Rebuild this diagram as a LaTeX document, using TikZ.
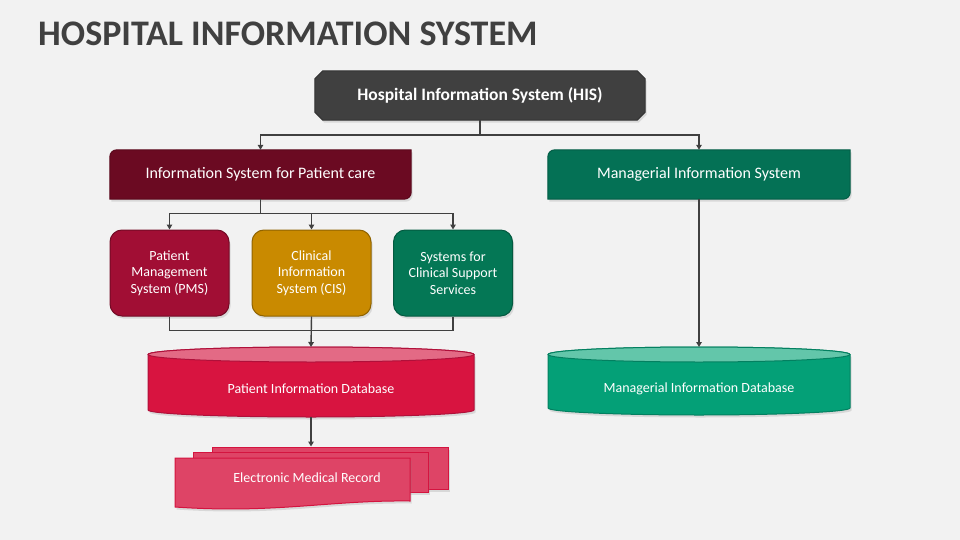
\documentclass[tikz,border=0pt]{standalone}
\usepackage{fontspec}
\setmainfont{Carlito}
\usetikzlibrary{arrows.meta,shadows,calc}
\definecolor{bgc}{HTML}{F2F2F2}
\definecolor{dgrey}{HTML}{404040}
\definecolor{maroon}{HTML}{6B0A22}
\definecolor{maroonb}{HTML}{5A081C}
\definecolor{mgreen}{HTML}{047155}
\definecolor{mgreenb}{HTML}{035C45}
\definecolor{pmsc}{HTML}{A10E34}
\definecolor{pmsb}{HTML}{730A25}
\definecolor{cisc}{HTML}{C98A00}
\definecolor{cisb}{HTML}{8F6300}
\definecolor{cssc}{HTML}{047755}
\definecolor{cssb}{HTML}{035A40}
\definecolor{pdbc}{HTML}{D81440}
\definecolor{pdbt}{HTML}{E36A85}
\definecolor{pdbb}{HTML}{B0103A}
\definecolor{emrc}{HTML}{DE4466}
\definecolor{emrb}{HTML}{D4143F}
\definecolor{mdbc}{HTML}{04A077}
\definecolor{mdbt}{HTML}{63C6AA}
\definecolor{mdbb}{HTML}{038060}
\pgfdeclarelayer{bg}
\pgfdeclarelayer{back}
\pgfsetlayers{bg,back,main}
\newcommand\dbcyl[7]{%
  \filldraw[fill=#5,draw=#7,line width=1pt,softshadow] (#1-#2,#3) -- (#1-#2,#4)
    arc[start angle=180,end angle=360,x radius=#2,y radius=7] -- (#1+#2,#3)
    arc[start angle=0,end angle=180,x radius=#2,y radius=7.5] -- cycle;
  \filldraw[fill=#6,draw=#7,line width=1pt] (#1,#3) ellipse[x radius=#2,y radius=7.5];}
\newcommand\diagbox[3]{%
  \filldraw[fill=#2,draw=#3,line width=1pt,softshadow] (#1.south west) -- ([yshift=-7pt]#1.north west)
    arc[start angle=180,end angle=90,radius=7pt] -- (#1.north east) -- ([yshift=7pt]#1.south east)
    arc[start angle=0,end angle=-90,radius=7pt] -- cycle;}
\begin{document}
\begin{tikzpicture}[x=1pt,y=1pt,
  softshadow/.style={drop shadow={opacity=0.22,shadow xshift=1.5pt,shadow yshift=-2.5pt}},
  txt/.style={text=white,align=center,inner sep=0pt},
  sysbox/.style={txt,rounded corners=12pt,line width=1pt,minimum width=119pt,minimum height=86pt,
     font=\fontsize{14}{16.5}\selectfont,softshadow},
  conn/.style={draw=dgrey,line width=1.4pt},
  arr/.style={conn,-{Triangle[length=5pt,width=5.5pt]}},
  page/.style={fill=emrc,draw=emrb,line width=1pt,inner sep=0pt}]
\begin{pgfonlayer}{bg}
\fill[bgc] (0,0) rectangle (960,-540);
\end{pgfonlayer}
\useasboundingbox (0,0) rectangle (960,-540);

% title
\node[anchor=base west,inner sep=0pt,text=dgrey,font=\fontsize{36}{40}\bfseries\selectfont] (title) at (38,-46) {HOSPITAL INFORMATION SYSTEM};

% top
\node[txt,minimum width=330pt,minimum height=49pt,font=\fontsize{17.5}{20}\bfseries\selectfont] (his) at (480,-95.5) {Hospital Information System (HIS)};
\begin{pgfonlayer}{back}
\filldraw[fill=dgrey,draw=dgrey!80!black,line width=1pt,softshadow]
  ([xshift=8pt]his.north west) -- ([xshift=-8pt]his.north east) -- ([yshift=-8pt]his.north east)
  -- ([yshift=8pt]his.south east) -- ([xshift=-8pt]his.south east) -- ([xshift=8pt]his.south west)
  -- ([yshift=8pt]his.south west) -- ([yshift=-8pt]his.north west) -- cycle;
\end{pgfonlayer}

\node[txt,minimum width=301pt,minimum height=49pt,font=\fontsize{16}{18}\selectfont] (pc) at (260.5,-174.5) {Information System for Patient care};
\node[txt,minimum width=302pt,minimum height=49pt,font=\fontsize{16}{18}\selectfont] (mis) at (699,-174.5) {Managerial Information System};
\begin{pgfonlayer}{back}
\diagbox{pc}{maroon}{maroonb}
\diagbox{mis}{mgreen}{mgreenb}
\end{pgfonlayer}

% systems
\node[sysbox,fill=pmsc,draw=pmsb] (pms) at (169.5,-273) {Patient\\Management\\System (PMS)};
\node[sysbox,fill=cisc,draw=cisb] (cis) at (311.5,-273) {Clinical\\Information\\System (CIS)};
\node[sysbox,fill=cssc,draw=cssb] (css) at (453,-273) {Systems for\\Clinical Support\\Services};

% databases
\begin{pgfonlayer}{back}
\dbcyl{311}{163}{-354.5}{-410}{pdbc}{pdbt}{pdbb}
\dbcyl{699}{151}{-354.5}{-408}{mdbc}{mdbt}{mdbb}
\end{pgfonlayer}
\coordinate (pdbtop) at (311,-347);
\coordinate (pdbbot) at (311,-417);
\coordinate (mdbtop) at (699,-347);
\node[txt,font=\fontsize{14}{16}\selectfont] (pdb) at (311,-389) {Patient Information Database};
\node[txt,font=\fontsize{14}{16}\selectfont] (mdb) at (699,-389) {Managerial Information Database};

% electronic medical record
\node[page,minimum width=236pt,minimum height=42pt,softshadow] (emrback) at (330,-468) {};
\node[page,minimum width=235pt,minimum height=40pt,softshadow] (emrmid) at (310.5,-472) {};
\filldraw[fill=emrc,draw=emrb,line width=1pt,softshadow] (175,-458) -- (410,-458) -- (410,-501)
  .. controls (330,-500) and (275,-514) .. (175,-507) -- cycle;
\node[txt,font=\fontsize{14}{16}\selectfont] (emr) at (307,-478) {Electronic Medical Record};

% connectors
\draw[arr] (his.south) -- ++(0,-15) -| (pc.north);
\draw[arr] (his.south) -- ++(0,-15) -| (mis.north);
\draw[arr] (pc.south) -- ++(0,-14) -| (pms.north);
\draw[arr] (pc.south) -- ++(0,-14) -| (cis.north);
\draw[arr] (pc.south) -- ++(0,-14) -| (css.north);
\draw[conn] (pms.south) |- ($(css.south)+(0,-14)$) -- (css.south);
\draw[arr] (cis.south) -- (pdbtop);
\draw[arr] (pdbbot) -- (pdbbot |- emrback.north);
\draw[arr] (mis.south) -- (mdbtop);
\end{tikzpicture}
\end{document}
